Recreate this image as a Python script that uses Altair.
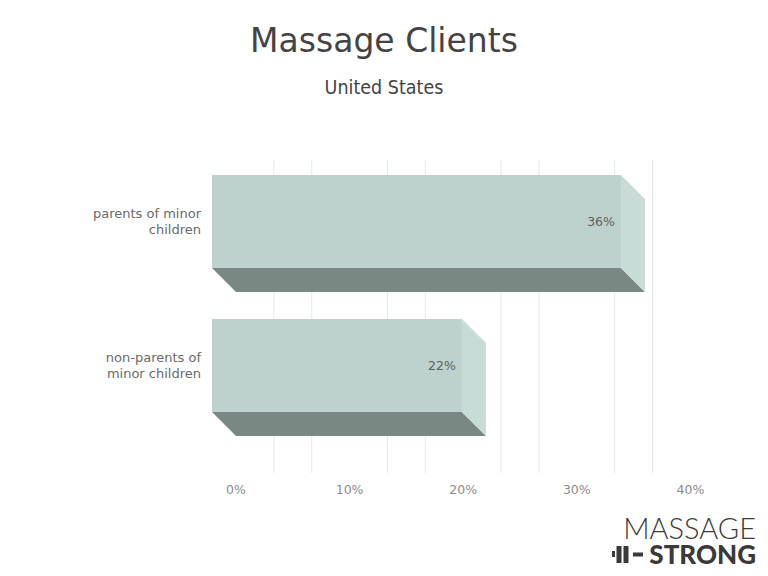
import altair as alt
import pandas as pd

# ---- data ----
categories = ["parents of minor children", "non-parents of minor children"]
category_lines = ["parents of minor\nchildren", "non-parents of\nminor children"]
values = [36, 22]
value_labels = ["36%", "22%"]
tick_values = [0, 10, 20, 30, 40]
tick_labels = ["0%", "10%", "20%", "30%", "40%"]
grid_values = [10 / 3, 20 / 3, 40 / 3, 50 / 3, 70 / 3, 80 / 3, 100 / 3, 110 / 3]

# ---- layout (style) ----
W, H = 752, 560
X0_PX = 204          # pixel position of 0% (front plane)
PX_PER_PCT = 11.36
DEPTH_PX = 24
DX = DEPTH_PX / PX_PER_PCT
DY = 24
ROW0, ROW_STEP, HALF = 213.5, 144, 46.5

x_scale = alt.Scale(domain=[-X0_PX / PX_PER_PCT, (W - X0_PX) / PX_PER_PCT], nice=False, zero=False)
y_scale = alt.Scale(domain=[0, H], reverse=True, nice=False, zero=False)

FRONT, SIDE, BOTTOM = "#bdd2ce", "#c9dbd7", "#7a8884"

front_rows, side_rows, bottom_rows, lab_rows = [], [], [], []
for i, (cat, lines, v, vl) in enumerate(zip(categories, category_lines, values, value_labels)):
    c = ROW0 + i * ROW_STEP
    top, bot = c - HALF, c + HALF
    front_rows.append(dict(bar=cat, x=0, x2=v, y=top, y2=bot))
    side_rows += [dict(bar=cat, x=v, y=top, y2=bot),
                  dict(bar=cat, x=v + DX, y=top + DY, y2=bot + DY)]
    bottom_rows += [dict(bar=cat, x=0, y=bot, y2=bot),
                    dict(bar=cat, x=DX, y=bot, y2=bot + DY),
                    dict(bar=cat, x=v, y=bot, y2=bot + DY),
                    dict(bar=cat, x=v + DX, y=bot + DY, y2=bot + DY)]
    lab_rows.append(dict(bar=cat, lines=lines, x=v, y=c, label=vl, z=0))

front_df = pd.DataFrame(front_rows)
side_df = pd.DataFrame(side_rows)
bottom_df = pd.DataFrame(bottom_rows)
lab_df = pd.DataFrame(lab_rows)
grid_df = pd.DataFrame({"x": [g + DX for g in grid_values], "y": 152, "y2": 465})
tick_df = pd.DataFrame({"x": [t + DX for t in tick_values], "label": tick_labels, "y": 482})


def X(f="x", **kw):
    return alt.X(f"{f}:Q", scale=x_scale, axis=None, **kw)


def Y(f="y", **kw):
    return alt.Y(f"{f}:Q", scale=y_scale, axis=None, **kw)


grid = alt.Chart(grid_df).mark_rule(color="#e8e8e8", strokeWidth=1).encode(
    x=X(), y=Y(), y2="y2:Q")

front = alt.Chart(front_df).mark_rect(color=FRONT).encode(
    x=X(), x2="x2:Q", y=Y(), y2="y2:Q")

side = alt.Chart(side_df).mark_area(color=SIDE, orient="vertical").encode(
    x=X(), y=Y(), y2="y2:Q", detail="bar:N")

bottom = alt.Chart(bottom_df).mark_area(color=BOTTOM, orient="vertical").encode(
    x=X(), y=Y(), y2="y2:Q", detail="bar:N")

LABEL_FONT = "DejaVu Sans"
value_text = alt.Chart(lab_df).mark_text(
    align="right", baseline="middle", dx=-6, font=LABEL_FONT, fontSize=12.5, color="#5f5f5f"
).encode(x=X(), y=Y(), text="label:N")

cat_text = alt.Chart(lab_df).mark_text(
    align="right", baseline="middle", dx=-11, dy=-8, font=LABEL_FONT, fontSize=13, color="#6a6a6a",
    lineBreak="\n", lineHeight=16.5
).encode(x=X("z"), y=Y(), text="lines:N")

ticks = alt.Chart(tick_df).mark_text(
    align="center", baseline="middle", font=LABEL_FONT, fontSize=12.5, color="#8c8c8c"
).encode(x=X(), y=Y(), text="label:N")

title = alt.Chart(pd.DataFrame({"t": ["Massage Clients"]})).mark_text(
    font="DejaVu Sans", fontSize=33, color="#444444", align="center", baseline="middle"
).encode(x=alt.value(376), y=alt.value(34), text="t:N")
sub = alt.Chart(pd.DataFrame({"t": ["United States"]})).mark_text(
    font="DejaVu Sans Condensed", fontSize=19.5, color="#444444",
    align="center", baseline="middle"
).encode(x=alt.value(376), y=alt.value(80), text="t:N")

logo1 = alt.Chart(pd.DataFrame({"t": ["MASSAGE"]})).mark_text(
    font="Lato", fontSize=29, fontWeight=300, color="#3a3a3a", align="right", baseline="bottom"
).encode(x=alt.value(748), y=alt.value(537), text="t:N")
logo2 = alt.Chart(pd.DataFrame({"t": ["STRONG"]})).mark_text(
    font="Lato", fontSize=26, fontWeight=900, color="#3a3a3a", align="right", baseline="top"
).encode(x=alt.value(748), y=alt.value(535), text="t:N")

# dumbbell icon of the logo (decoration)
icon_df = pd.DataFrame({
    "part": ["nub", "plate1", "plate2", "bar"],
    "x": [605.5, 611, 618, 625], "x2": [605.5, 611, 618, 635],
    "y": [543, 538, 538, 546.5], "y2": [549, 555, 555, 546.5],
    "w": [3, 5, 5, 4],
})
icon = alt.Chart(icon_df).mark_rule(color="#3a3a3a").encode(
    x=alt.X("x:Q", scale=alt.Scale(domain=[0, W], nice=False, zero=False), axis=None),
    x2="x2:Q",
    y=alt.Y("y:Q", scale=alt.Scale(domain=[0, H], reverse=True, nice=False, zero=False), axis=None),
    y2="y2:Q",
    strokeWidth=alt.StrokeWidth("w:Q", scale=None, legend=None),
)

main = alt.layer(grid, bottom, side, front, value_text, cat_text, ticks, title, sub, logo1, logo2)

chart = alt.layer(main, icon).resolve_scale(x="independent", y="independent").properties(
    width=W, height=H, padding=0, autosize=alt.AutoSizeParams(type="none"),
    background="white"
).configure_view(stroke=None)

chart.save("out.html", embed_options={"renderer": "svg", "actions": False})
